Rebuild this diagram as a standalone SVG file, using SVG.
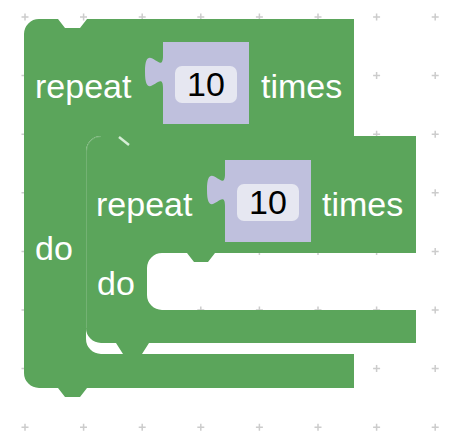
<svg xmlns="http://www.w3.org/2000/svg" width="474" height="434" viewBox="0 0 474 434">
<defs>
<style>
.grid{stroke:#cccccc;stroke-width:1.5;fill:none}
.blk{fill:#5ba55b}
.shadow{fill:#bfc0dd}
.field{fill:#e6e7f1}
.lbl{font-family:"Liberation Sans",Arial,sans-serif;font-size:34px;fill:#ffffff}
.num{font-family:"Liberation Sans",Arial,sans-serif;font-size:34px;fill:#000000;text-anchor:middle}
.hl{stroke:#d6edd6;stroke-width:2.5;fill:none}
.edge{stroke:#ffffff;stroke-opacity:0.15;stroke-width:1;fill:none}
</style>
</defs>
<rect width="474" height="434" fill="#ffffff"/>
<g id="grid" class="grid">
<path d="M21.5,17h7M25,13.5v7M80,17h7M83.6,13.5v7M138.7,17h7M142.2,13.5v7M197.3,17h7M200.8,13.5v7M255.9,17h7M259.4,13.5v7M314.5,17h7M318,13.5v7M373.1,17h7M376.6,13.5v7M431.7,17h7M435.2,13.5v7
M21.5,75.6h7M25,72.1v7M80,75.6h7M83.6,72.1v7M138.7,75.6h7M142.2,72.1v7M197.3,75.6h7M200.8,72.1v7M255.9,75.6h7M259.4,72.1v7M314.5,75.6h7M318,72.1v7M373.1,75.6h7M376.6,72.1v7M431.7,75.6h7M435.2,72.1v7
M21.5,134.2h7M25,130.7v7M80,134.2h7M83.6,130.7v7M138.7,134.2h7M142.2,130.7v7M197.3,134.2h7M200.8,130.7v7M255.9,134.2h7M259.4,130.7v7M314.5,134.2h7M318,130.7v7M373.1,134.2h7M376.6,130.7v7M431.7,134.2h7M435.2,130.7v7
M21.5,192.8h7M25,189.3v7M80,192.8h7M83.6,189.3v7M138.7,192.8h7M142.2,189.3v7M197.3,192.8h7M200.8,189.3v7M255.9,192.8h7M259.4,189.3v7M314.5,192.8h7M318,189.3v7M373.1,192.8h7M376.6,189.3v7M431.7,192.8h7M435.2,189.3v7
M21.5,251.4h7M25,247.9v7M80,251.4h7M83.6,247.9v7M138.7,251.4h7M142.2,247.9v7M197.3,251.4h7M200.8,247.9v7M255.9,251.4h7M259.4,247.9v7M314.5,251.4h7M318,247.9v7M373.1,251.4h7M376.6,247.9v7M431.7,251.4h7M435.2,247.9v7
M21.5,310h7M25,306.5v7M80,310h7M83.6,306.5v7M138.7,310h7M142.2,306.5v7M197.3,310h7M200.8,306.5v7M255.9,310h7M259.4,306.5v7M314.5,310h7M318,306.5v7M373.1,310h7M376.6,306.5v7M431.7,310h7M435.2,306.5v7
M21.5,368.6h7M25,365.1v7M80,368.6h7M83.6,365.1v7M138.7,368.6h7M142.2,365.1v7M197.3,368.6h7M200.8,365.1v7M255.9,368.6h7M259.4,365.1v7M314.5,368.6h7M318,365.1v7M373.1,368.6h7M376.6,365.1v7M431.7,368.6h7M435.2,365.1v7
M21.5,427.2h7M25,423.7v7M80,427.2h7M83.6,423.7v7M138.7,427.2h7M142.2,423.7v7M197.3,427.2h7M200.8,423.7v7M255.9,427.2h7M259.4,423.7v7M314.5,427.2h7M318,423.7v7M373.1,427.2h7M376.6,423.7v7M431.7,427.2h7M435.2,423.7v7"/>
</g>
<g id="connectors"></g>
<g id="outer-repeat">
<path class="blk" d="M24,34A15,15 0 0 1 39,19H58L65,28H80L87,19H354V136H101A15,15 0 0 0 86,151V339A15,15 0 0 0 101,354H354V388H87L80,397H65L58,388H39A15,15 0 0 1 24,373Z"/>
<text class="lbl" x="35" y="98">repeat</text>
<text class="lbl" x="261" y="98">times</text>
<text class="lbl" x="35" y="260">do</text>
</g>
<g id="outer-count">
<path class="shadow" d="M163,42V56c0,21 -18,-17 -18,16s18,-5 18,16V124H249V42Z"/>
<rect class="field" x="175" y="66" width="62" height="37" rx="7"/>
<text class="num" x="206" y="96">10</text>
</g>
<g id="inner-repeat">
<path class="blk" d="M86,151A15,15 0 0 1 101,136H416V253H215L208,262H194L187,253H162A15,15 0 0 0 147,268V295A15,15 0 0 0 162,310H416V343H149L142,354H123L116,343H101A15,15 0 0 1 86,328Z"/>
<path class="edge" d="M86.5,328V151A14.5,14.5 0 0 1 101,136.5"/>
<path class="hl" d="M119,137L129,145"/>
<text class="lbl" x="96" y="216">repeat</text>
<text class="lbl" x="322" y="216">times</text>
<text class="lbl" x="97" y="295">do</text>
</g>
<g id="inner-count">
<path class="shadow" d="M225,160V174c0,21 -18,-17 -18,16s18,-5 18,16V242H311V160Z"/>
<rect class="field" x="237" y="184" width="62" height="37" rx="7"/>
<text class="num" x="268" y="214">10</text>
</g>
</svg>
